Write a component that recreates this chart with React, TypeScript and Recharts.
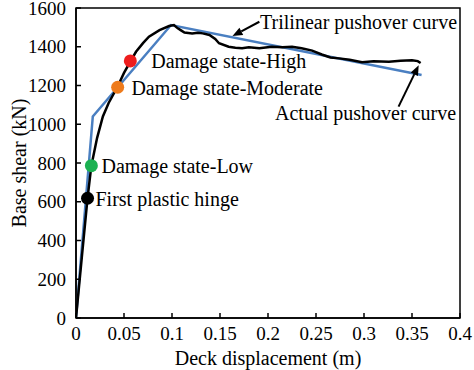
import {
  ComposedChart,
  Line,
  Scatter,
  Cell,
  XAxis,
  YAxis,
  ReferenceArea,
  ReferenceDot,
  ReferenceLine,
} from 'recharts';

const FONT = '"Liberation Serif", "Times New Roman", serif';

const xTicks = [0, 0.05, 0.1, 0.15, 0.2, 0.25, 0.3, 0.35, 0.4];
const yTicks = [0, 200, 400, 600, 800, 1000, 1200, 1400, 1600];

// actual pushover curve
const actualDisp = [
  0, 0.006, 0.012, 0.016, 0.022, 0.028, 0.034, 0.043, 0.05, 0.057, 0.0625, 0.07, 0.076, 0.087,
  0.097, 0.102, 0.106, 0.109, 0.113, 0.121, 0.127, 0.132, 0.139, 0.145, 0.149, 0.159, 0.166,
  0.173, 0.18, 0.191, 0.204, 0.215, 0.225, 0.235, 0.246, 0.256, 0.265, 0.274, 0.285, 0.298,
  0.31, 0.326, 0.338, 0.35, 0.356, 0.359,
];
const actualShear = [
  0, 310, 618, 786, 930, 1040, 1110, 1191, 1265, 1327, 1374, 1420, 1452, 1486,
  1507, 1512, 1495, 1486, 1473, 1468, 1472, 1469, 1461, 1440, 1418, 1400, 1395,
  1392, 1397, 1392, 1400, 1398, 1400, 1392, 1380, 1360, 1345, 1340, 1333, 1320,
  1325, 1322, 1328, 1330, 1326, 1316,
];

// trilinear idealisation
const triDisp = [0, 0.0175, 0.099, 0.36];
const triShear = [0, 1040, 1512, 1254];

// damage states
const stateDisp = [0.012, 0.016, 0.0434, 0.0566];
const stateShear = [618, 786, 1191, 1327];
const stateColors = ['#000000', '#1cb152', '#ee7b1c', '#ee1d1d'];

// annotation texts and their anchors (data units)
const noteText = [
  'Trilinear pushover curve',
  'Damage state-High',
  'Damage state-Moderate',
  'Actual pushover curve',
  'Damage state-Low',
  'First plastic hinge',
];
const noteDisp = [0.1917, 0.0784, 0.0577, 0.2073, 0.0265, 0.0203];
const noteShear = [1528, 1326, 1187, 1058, 785, 614];

const arrowFrom = [
  { x: 0.191, y: 1529 },
  { x: 0.336, y: 1091 },
];
const arrowTo = [
  { x: 0.163, y: 1455 },
  { x: 0.357, y: 1305 },
];

const actualData = actualDisp.map((x, i) => ({ x, y: actualShear[i] }));
const triData = triDisp.map((x, i) => ({ x, y: triShear[i] }));
const stateData = stateDisp.map((x, i) => ({ x, y: stateShear[i] }));

const Arrow = (p: any) => {
  const { x1, y1, x2, y2 } = p;
  const a = Math.atan2(y2 - y1, x2 - x1);
  const len = 10;
  const half = 4;
  const bx = x2 - len * Math.cos(a);
  const by = y2 - len * Math.sin(a);
  const pts = `${x2},${y2} ${bx - half * Math.sin(a)},${by + half * Math.cos(a)} ${bx + half * Math.sin(a)},${by - half * Math.cos(a)}`;
  return (
    <g>
      <line x1={x1} y1={y1} x2={bx} y2={by} stroke="#000" strokeWidth={2} />
      <polygon points={pts} fill="#000" />
    </g>
  );
};

const YLabel = (p: any) => {
  const vb = p.viewBox;
  const cx = vb.x + 19;
  const cy = vb.y + vb.height / 2;
  return (
    <text
      x={cx}
      y={cy}
      transform={`rotate(-90, ${cx}, ${cy})`}
      textAnchor="middle"
      dominantBaseline="central"
      fontFamily={FONT}
      fontSize={20}
      fill="#000"
    >
      Base shear (kN)
    </text>
  );
};

const tickStyle = { fill: '#000', fontSize: 19, fontFamily: FONT };

export default function App() {
  return (
    <div
      style={{
        position: 'absolute',
        left: 0,
        top: 0,
        width: 474,
        height: 370,
        background: '#fff',
        fontFamily: FONT,
      }}
    >
      <ComposedChart width={474} height={370} margin={{ top: 8, right: 14, left: 0, bottom: 0 }}>
        <XAxis
          dataKey="x"
          type="number"
          domain={[0, 0.4]}
          ticks={xTicks}
          interval={0}
          allowDataOverflow
          height={52}
          tickSize={-5}
          tickMargin={14}
          tick={tickStyle}
          stroke="#000"
          strokeWidth={1.5}
          label={{
            value: 'Deck displacement (m)',
            position: 'insideBottom',
            offset: 5,
            fill: '#000',
            fontSize: 20,
            fontFamily: FONT,
          }}
        />
        <YAxis
          dataKey="y"
          type="number"
          domain={[0, 1600]}
          ticks={yTicks}
          interval={0}
          allowDataOverflow
          width={76}
          tickSize={-5}
          tickMargin={15}
          tick={tickStyle}
          stroke="#000"
          strokeWidth={1.5}
          label={{ content: YLabel }}
        />
        <ReferenceArea
          x1={0}
          x2={0.4}
          y1={0}
          y2={1600}
          fill="none"
          fillOpacity={0}
          stroke="#000"
          strokeWidth={1.5}
          strokeOpacity={1}
        />
        <Line
          data={triData}
          dataKey="y"
          type="linear"
          stroke="#4a7fc1"
          strokeWidth={2.5}
          dot={false}
          activeDot={false}
          isAnimationActive={false}
        />
        <Line
          data={actualData}
          dataKey="y"
          type="linear"
          stroke="#000"
          strokeWidth={2.5}
          dot={false}
          activeDot={false}
          isAnimationActive={false}
        />
        <Scatter
          data={stateData}
          dataKey="y"
          isAnimationActive={false}
          shape={(p: any) => <circle cx={p.cx} cy={p.cy} r={6.5} fill={p.fill} />}
        >
          {stateData.map((_, i) => (
            <Cell key={i} fill={stateColors[i]} />
          ))}
        </Scatter>
        {arrowFrom.map((f, i) => (
          <ReferenceLine
            key={`a${i}`}
            segment={[f, arrowTo[i]]}
            stroke="#000"
            shape={Arrow}
          />
        ))}
        {noteText.map((t, i) => (
          <ReferenceDot
            key={`n${i}`}
            x={noteDisp[i]}
            y={noteShear[i]}
            r={0}
            fill="none"
            stroke="none"
            label={{
              value: t,
              position: 'right',
              offset: 0,
              fill: '#000',
              fontSize: 20,
              fontFamily: FONT,
            }}
          />
        ))}
      </ComposedChart>
    </div>
  );
}
